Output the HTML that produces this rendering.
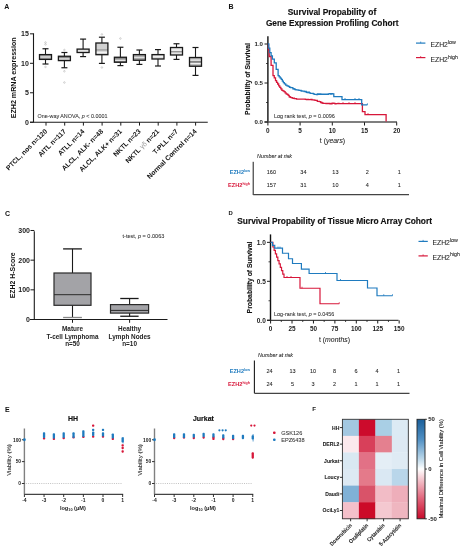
<!DOCTYPE html>
<html><head><meta charset="utf-8"><style>
html,body{margin:0;padding:0;background:#fff;width:464px;height:550px;overflow:hidden;}
svg{display:block;filter:blur(0.3px);font-family:"Liberation Sans", sans-serif;}
</style></head><body>
<svg width="464" height="550" viewBox="0 0 464 550" font-family="Liberation Sans, sans-serif"><text x="4.20" y="9.20" font-size="7" font-weight="bold" text-anchor="start" fill="#111" font-style="normal" >A</text>
<text x="228.40" y="9.40" font-size="7" font-weight="bold" text-anchor="start" fill="#111" font-style="normal" >B</text>
<text x="5.00" y="215.60" font-size="7" font-weight="bold" text-anchor="start" fill="#111" font-style="normal" >C</text>
<text x="5.00" y="411.90" font-size="7" font-weight="bold" text-anchor="start" fill="#111" font-style="normal" >E</text>
<text x="312.30" y="411.30" font-size="6.2" font-weight="bold" text-anchor="start" fill="#222" font-style="normal" >F</text>
<text x="228.40" y="215.10" font-size="5.9" font-weight="bold" text-anchor="start" fill="#111" font-style="normal" >D</text>
<line x1="33.50" y1="33.30" x2="33.50" y2="122.25" stroke="#1a1a1a" stroke-width="1.1" />
<line x1="30.00" y1="122.25" x2="207.75" y2="122.25" stroke="#1a1a1a" stroke-width="1.1" />
<line x1="30.00" y1="122.25" x2="33.50" y2="122.25" stroke="#1a1a1a" stroke-width="1" />
<text x="28.90" y="124.85" font-size="7.0" font-weight="bold" text-anchor="end" fill="#222" font-style="normal" >0</text>
<line x1="30.00" y1="92.78" x2="33.50" y2="92.78" stroke="#1a1a1a" stroke-width="1" />
<text x="28.90" y="95.38" font-size="7.0" font-weight="bold" text-anchor="end" fill="#222" font-style="normal" >5</text>
<line x1="30.00" y1="63.30" x2="33.50" y2="63.30" stroke="#1a1a1a" stroke-width="1" />
<text x="28.90" y="65.90" font-size="7.0" font-weight="bold" text-anchor="end" fill="#222" font-style="normal" >10</text>
<line x1="30.00" y1="33.83" x2="33.50" y2="33.83" stroke="#1a1a1a" stroke-width="1" />
<text x="28.90" y="36.43" font-size="7.0" font-weight="bold" text-anchor="end" fill="#222" font-style="normal" >15</text>
<text x="0.00" y="0.00" font-size="7.1" font-weight="bold" text-anchor="middle" fill="#111" font-style="normal" transform="translate(15.7,77.8) rotate(-90)">EZH2 mRNA expression</text>
<text x="37.50" y="118.20" font-size="5.4" font-weight="normal" text-anchor="start" fill="#333" font-style="normal" stroke="#333" stroke-width="0.07" >One-way ANOVA, <tspan font-style="italic">p</tspan> &lt; 0.0001</text>
<line x1="46.00" y1="122.25" x2="46.00" y2="125.60" stroke="#1a1a1a" stroke-width="1" />
<line x1="45.50" y1="48.75" x2="45.50" y2="54.60" stroke="#1a1a1a" stroke-width="1.1" />
<line x1="45.50" y1="59.40" x2="45.50" y2="64.00" stroke="#1a1a1a" stroke-width="1.1" />
<line x1="42.50" y1="48.75" x2="48.50" y2="48.75" stroke="#1a1a1a" stroke-width="1.2" />
<line x1="42.50" y1="64.00" x2="48.50" y2="64.00" stroke="#1a1a1a" stroke-width="1.2" />
<rect x="39.50" y="54.60" width="12.00" height="4.80" fill="#a0a0a0"/>
<rect x="39.50" y="56.40" width="12.00" height="1.2" fill="#e8e8e8"/>
<rect x="39.50" y="54.60" width="12.00" height="4.80" fill="none" stroke="#1a1a1a" stroke-width="1.3"/>
<circle cx="45.50" cy="42.50" r="0.8" fill="none" stroke="#aaa" stroke-width="0.5"/>
<circle cx="45.50" cy="44.40" r="0.8" fill="none" stroke="#aaa" stroke-width="0.5"/>
<circle cx="45.50" cy="66.90" r="0.8" fill="none" stroke="#aaa" stroke-width="0.5"/>
<text font-size="6.8" font-weight="bold" text-anchor="end" fill="#111" transform="translate(47.60,131.80) rotate(-45)">PTCL, nos n=120</text>
<line x1="64.70" y1="122.25" x2="64.70" y2="125.60" stroke="#1a1a1a" stroke-width="1" />
<line x1="64.40" y1="52.50" x2="64.40" y2="56.25" stroke="#1a1a1a" stroke-width="1.1" />
<line x1="64.40" y1="60.60" x2="64.40" y2="67.75" stroke="#1a1a1a" stroke-width="1.1" />
<line x1="61.40" y1="52.50" x2="67.40" y2="52.50" stroke="#1a1a1a" stroke-width="1.2" />
<line x1="61.40" y1="67.75" x2="67.40" y2="67.75" stroke="#1a1a1a" stroke-width="1.2" />
<rect x="58.40" y="56.25" width="12.00" height="4.35" fill="#8a8a8a"/>
<rect x="58.40" y="58.35" width="12.00" height="1.2" fill="#f4f4f4"/>
<rect x="58.40" y="56.25" width="12.00" height="4.35" fill="none" stroke="#1a1a1a" stroke-width="1.3"/>
<circle cx="64.40" cy="50.00" r="0.8" fill="none" stroke="#aaa" stroke-width="0.5"/>
<circle cx="64.40" cy="71.25" r="0.8" fill="none" stroke="#aaa" stroke-width="0.5"/>
<circle cx="64.40" cy="82.50" r="0.8" fill="none" stroke="#aaa" stroke-width="0.5"/>
<text font-size="6.8" font-weight="bold" text-anchor="end" fill="#111" transform="translate(66.30,131.80) rotate(-45)">AITL n=117</text>
<line x1="83.40" y1="122.25" x2="83.40" y2="125.60" stroke="#1a1a1a" stroke-width="1" />
<line x1="83.10" y1="39.10" x2="83.10" y2="49.10" stroke="#1a1a1a" stroke-width="1.1" />
<line x1="83.10" y1="52.50" x2="83.10" y2="56.60" stroke="#1a1a1a" stroke-width="1.1" />
<line x1="80.10" y1="39.10" x2="86.10" y2="39.10" stroke="#1a1a1a" stroke-width="1.2" />
<line x1="80.10" y1="56.60" x2="86.10" y2="56.60" stroke="#1a1a1a" stroke-width="1.2" />
<rect x="77.10" y="49.10" width="12.00" height="3.40" fill="#e6e6e6"/>
<rect x="77.10" y="49.10" width="12.00" height="3.40" fill="none" stroke="#1a1a1a" stroke-width="1.3"/>
<text font-size="6.8" font-weight="bold" text-anchor="end" fill="#111" transform="translate(85.00,131.80) rotate(-45)">ATLL n=14</text>
<line x1="102.10" y1="122.25" x2="102.10" y2="125.60" stroke="#1a1a1a" stroke-width="1" />
<line x1="101.90" y1="37.20" x2="101.90" y2="43.00" stroke="#1a1a1a" stroke-width="1.1" />
<line x1="101.90" y1="54.70" x2="101.90" y2="63.40" stroke="#1a1a1a" stroke-width="1.1" />
<line x1="98.90" y1="37.20" x2="104.90" y2="37.20" stroke="#1a1a1a" stroke-width="1.2" />
<line x1="98.90" y1="63.40" x2="104.90" y2="63.40" stroke="#1a1a1a" stroke-width="1.2" />
<rect x="95.90" y="43.00" width="12.00" height="11.70" fill="#d2d2d2"/>
<rect x="95.90" y="49.65" width="12.00" height="1.2" fill="#f8f8f8"/>
<rect x="95.90" y="51.76" width="12.00" height="1.2" fill="#f4f4f4"/>
<line x1="95.90" y1="50.02" x2="107.90" y2="50.02" stroke="#555" stroke-width="0.8" />
<rect x="95.90" y="43.00" width="12.00" height="11.70" fill="none" stroke="#1a1a1a" stroke-width="1.3"/>
<circle cx="101.90" cy="34.40" r="0.8" fill="none" stroke="#aaa" stroke-width="0.5"/>
<circle cx="101.90" cy="67.50" r="0.8" fill="none" stroke="#aaa" stroke-width="0.5"/>
<text font-size="6.8" font-weight="bold" text-anchor="end" fill="#111" transform="translate(103.70,131.80) rotate(-45)">ALCL, ALK- n=48</text>
<line x1="120.80" y1="122.25" x2="120.80" y2="125.60" stroke="#1a1a1a" stroke-width="1" />
<line x1="120.40" y1="47.25" x2="120.40" y2="57.25" stroke="#1a1a1a" stroke-width="1.1" />
<line x1="120.40" y1="62.25" x2="120.40" y2="65.60" stroke="#1a1a1a" stroke-width="1.1" />
<line x1="117.40" y1="47.25" x2="123.40" y2="47.25" stroke="#1a1a1a" stroke-width="1.2" />
<line x1="117.40" y1="65.60" x2="123.40" y2="65.60" stroke="#1a1a1a" stroke-width="1.2" />
<rect x="114.40" y="57.25" width="12.00" height="5.00" fill="#8c8c8c"/>
<rect x="114.40" y="59.65" width="12.00" height="1.2" fill="#f4f4f4"/>
<rect x="114.40" y="57.25" width="12.00" height="5.00" fill="none" stroke="#1a1a1a" stroke-width="1.3"/>
<circle cx="120.40" cy="38.50" r="0.8" fill="none" stroke="#aaa" stroke-width="0.5"/>
<text font-size="6.8" font-weight="bold" text-anchor="end" fill="#111" transform="translate(122.40,131.80) rotate(-45)">ALCL, ALK+ n=31</text>
<line x1="139.50" y1="122.25" x2="139.50" y2="125.60" stroke="#1a1a1a" stroke-width="1" />
<line x1="139.40" y1="50.00" x2="139.40" y2="54.60" stroke="#1a1a1a" stroke-width="1.1" />
<line x1="139.40" y1="60.25" x2="139.40" y2="64.40" stroke="#1a1a1a" stroke-width="1.1" />
<line x1="136.40" y1="50.00" x2="142.40" y2="50.00" stroke="#1a1a1a" stroke-width="1.2" />
<line x1="136.40" y1="64.40" x2="142.40" y2="64.40" stroke="#1a1a1a" stroke-width="1.2" />
<rect x="133.40" y="54.60" width="12.00" height="5.65" fill="#a8a8a8"/>
<rect x="133.40" y="56.82" width="12.00" height="1.2" fill="#e0e0e0"/>
<rect x="133.40" y="54.60" width="12.00" height="5.65" fill="none" stroke="#1a1a1a" stroke-width="1.3"/>
<text font-size="6.8" font-weight="bold" text-anchor="end" fill="#111" transform="translate(141.10,131.80) rotate(-45)">NKTL n=23</text>
<line x1="158.20" y1="122.25" x2="158.20" y2="125.60" stroke="#1a1a1a" stroke-width="1" />
<line x1="158.00" y1="49.60" x2="158.00" y2="54.60" stroke="#1a1a1a" stroke-width="1.1" />
<line x1="158.00" y1="59.00" x2="158.00" y2="66.00" stroke="#1a1a1a" stroke-width="1.1" />
<line x1="155.00" y1="49.60" x2="161.00" y2="49.60" stroke="#1a1a1a" stroke-width="1.2" />
<line x1="155.00" y1="66.00" x2="161.00" y2="66.00" stroke="#1a1a1a" stroke-width="1.2" />
<rect x="152.00" y="54.60" width="12.00" height="4.40" fill="#d0d0d0"/>
<rect x="152.00" y="56.20" width="12.00" height="1.2" fill="#fafafa"/>
<rect x="152.00" y="54.60" width="12.00" height="4.40" fill="none" stroke="#1a1a1a" stroke-width="1.3"/>
<text font-size="6.8" font-weight="bold" text-anchor="end" fill="#111" transform="translate(159.80,131.80) rotate(-45)">NKTL <tspan font-weight="normal" fill="#999">&#947;&#948;</tspan> n=21</text>
<line x1="176.90" y1="122.25" x2="176.90" y2="125.60" stroke="#1a1a1a" stroke-width="1" />
<line x1="176.50" y1="43.75" x2="176.50" y2="47.50" stroke="#1a1a1a" stroke-width="1.1" />
<line x1="176.50" y1="55.00" x2="176.50" y2="59.40" stroke="#1a1a1a" stroke-width="1.1" />
<line x1="173.50" y1="43.75" x2="179.50" y2="43.75" stroke="#1a1a1a" stroke-width="1.2" />
<line x1="173.50" y1="59.40" x2="179.50" y2="59.40" stroke="#1a1a1a" stroke-width="1.2" />
<rect x="170.50" y="47.50" width="12.00" height="7.50" fill="#dedede"/>
<rect x="170.50" y="49.52" width="12.00" height="1.2" fill="#f6f6f6"/>
<rect x="170.50" y="52.15" width="12.00" height="1.2" fill="#f6f6f6"/>
<line x1="170.50" y1="51.85" x2="182.50" y2="51.85" stroke="#555" stroke-width="0.8" />
<rect x="170.50" y="47.50" width="12.00" height="7.50" fill="none" stroke="#1a1a1a" stroke-width="1.3"/>
<text font-size="6.8" font-weight="bold" text-anchor="end" fill="#111" transform="translate(178.50,131.80) rotate(-45)">T-PLL n=7</text>
<line x1="195.60" y1="122.25" x2="195.60" y2="125.60" stroke="#1a1a1a" stroke-width="1" />
<line x1="195.50" y1="47.50" x2="195.50" y2="57.50" stroke="#1a1a1a" stroke-width="1.1" />
<line x1="195.50" y1="66.25" x2="195.50" y2="75.40" stroke="#1a1a1a" stroke-width="1.1" />
<line x1="192.50" y1="47.50" x2="198.50" y2="47.50" stroke="#1a1a1a" stroke-width="1.2" />
<line x1="192.50" y1="75.40" x2="198.50" y2="75.40" stroke="#1a1a1a" stroke-width="1.2" />
<rect x="189.50" y="57.50" width="12.00" height="8.75" fill="#b4b4b4"/>
<rect x="189.50" y="59.52" width="12.00" height="1.2" fill="#f0f0f0"/>
<rect x="189.50" y="63.02" width="12.00" height="1.2" fill="#f0f0f0"/>
<line x1="189.50" y1="61.88" x2="201.50" y2="61.88" stroke="#555" stroke-width="0.8" />
<rect x="189.50" y="57.50" width="12.00" height="8.75" fill="none" stroke="#1a1a1a" stroke-width="1.3"/>
<text font-size="6.8" font-weight="bold" text-anchor="end" fill="#111" transform="translate(197.20,131.80) rotate(-45)">Normal Control n=14</text>
<text x="332.00" y="15.20" font-size="8.4" font-weight="bold" text-anchor="middle" fill="#111" font-style="normal" stroke="#111" stroke-width="0.15" >Survival Propability of</text>
<text x="332.20" y="25.50" font-size="8.25" font-weight="bold" text-anchor="middle" fill="#111" font-style="normal" stroke="#111" stroke-width="0.15" >Gene Expression Profiling Cohort</text>
<line x1="267.90" y1="36.30" x2="267.90" y2="122.30" stroke="#111" stroke-width="1.4" />
<line x1="264.50" y1="122.10" x2="397.00" y2="122.10" stroke="#555" stroke-width="1.5" />
<line x1="264.50" y1="122.00" x2="267.90" y2="122.00" stroke="#1a1a1a" stroke-width="1" />
<text x="263.00" y="124.30" font-size="6.1" font-weight="bold" text-anchor="end" fill="#222" font-style="normal" >0.0</text>
<line x1="264.50" y1="83.00" x2="267.90" y2="83.00" stroke="#1a1a1a" stroke-width="1" />
<text x="263.00" y="85.30" font-size="6.1" font-weight="bold" text-anchor="end" fill="#222" font-style="normal" >0.5</text>
<line x1="264.50" y1="44.00" x2="267.90" y2="44.00" stroke="#1a1a1a" stroke-width="1" />
<text x="263.00" y="46.30" font-size="6.1" font-weight="bold" text-anchor="end" fill="#222" font-style="normal" >1.0</text>
<line x1="266.00" y1="102.50" x2="267.90" y2="102.50" stroke="#1a1a1a" stroke-width="0.8" />
<line x1="266.00" y1="63.50" x2="267.90" y2="63.50" stroke="#1a1a1a" stroke-width="0.8" />
<line x1="267.90" y1="122.30" x2="267.90" y2="125.50" stroke="#1a1a1a" stroke-width="1" />
<text x="267.90" y="132.90" font-size="6.4" font-weight="bold" text-anchor="middle" fill="#222" font-style="normal" >0</text>
<line x1="300.10" y1="122.30" x2="300.10" y2="125.50" stroke="#1a1a1a" stroke-width="1" />
<text x="300.10" y="132.90" font-size="6.4" font-weight="bold" text-anchor="middle" fill="#222" font-style="normal" >5</text>
<line x1="332.30" y1="122.30" x2="332.30" y2="125.50" stroke="#1a1a1a" stroke-width="1" />
<text x="332.30" y="132.90" font-size="6.4" font-weight="bold" text-anchor="middle" fill="#222" font-style="normal" >10</text>
<line x1="364.50" y1="122.30" x2="364.50" y2="125.50" stroke="#1a1a1a" stroke-width="1" />
<text x="364.50" y="132.90" font-size="6.4" font-weight="bold" text-anchor="middle" fill="#222" font-style="normal" >15</text>
<line x1="396.70" y1="122.30" x2="396.70" y2="125.50" stroke="#1a1a1a" stroke-width="1" />
<text x="396.70" y="132.90" font-size="6.4" font-weight="bold" text-anchor="middle" fill="#222" font-style="normal" >20</text>
<text x="0.00" y="0.00" font-size="6.8" font-weight="bold" text-anchor="middle" fill="#111" font-style="normal" stroke="#111" stroke-width="0.12" transform="translate(250.0,79.0) rotate(-90)">Probability of Survival</text>
<text x="332.50" y="143.00" font-size="6.9" font-weight="normal" text-anchor="middle" fill="#222" font-style="normal" stroke="#222" stroke-width="0.07" >t (<tspan font-style="italic">years</tspan>)</text>
<text x="273.90" y="118.00" font-size="5.5" font-weight="normal" text-anchor="start" fill="#333" font-style="normal" stroke="#333" stroke-width="0.07" >Log rank test, <tspan font-style="italic">p</tspan> = 0.0096</text>
<path d="M267.80,44.50 H268.50 V50.00 H269.20 V56.50 H271.10 V65.40 H273.00 V75.60 H274.25 V77.97 H275.50 V80.70 H276.57 V82.43 H277.63 V84.01 H278.70 V85.80 H279.77 V87.37 H280.83 V88.89 H281.90 V90.30 H282.97 V90.83 H284.03 V91.63 H285.10 V92.80 H286.12 V93.94 H287.14 V94.43 H288.16 V95.31 H289.18 V96.75 H290.20 V97.30 H291.25 V97.60 H292.30 V98.17 H293.35 V98.23 H294.40 V98.66 H295.45 V98.64 H296.50 V99.20 L304.20,99.20 H305.31 V99.37 H306.43 V99.61 H307.54 V99.44 H308.65 V99.67 H309.76 V99.69 H310.88 V99.34 H311.99 V99.91 H313.10 V99.80 H314.15 V100.18 H315.20 V100.29 H316.25 V100.42 H317.30 V101.32 H318.35 V101.36 H319.40 V101.70 H320.70 V102.50 H322.00 V103.00 H323.00 V103.42 H324.00 V103.30 H325.00 V103.47 H326.00 V103.64 H327.00 V103.30 H328.00 V103.61 H329.00 V103.39 H330.00 V103.75 H331.00 V103.74 H332.00 V103.22 H333.00 V103.27 H334.00 V103.35 H335.00 V103.90 H336.00 V103.56 H337.00 V103.71 H338.00 V103.51 H339.00 V103.68 H340.00 V103.70 L362.40,103.70 L362.40,111.70 L365.00,111.70 L365.00,114.70 L386.10,114.70 L386.10,121.50" fill="none" stroke="#d7173a" stroke-width="1.3"/>
<path d="M267.80,43.80 H268.80 V48.17 H269.80 V52.70 H271.10 V55.80 H272.40 V59.10 H274.30 V62.90 H276.20 V69.30 H278.10 V75.60 H279.17 V76.93 H280.23 V78.19 H281.30 V79.40 H282.33 V81.18 H283.37 V82.53 H284.40 V83.90 H285.70 V85.03 H287.00 V85.82 H288.30 V86.40 H289.44 V87.26 H290.58 V87.56 H291.72 V87.72 H292.86 V88.73 H294.00 V89.00 H295.02 V89.59 H296.04 V89.80 H297.06 V89.83 H298.08 V90.19 H299.10 V90.30 H300.12 V90.34 H301.14 V91.01 H302.16 V91.07 H303.18 V91.11 H304.20 V91.50 H305.22 V91.45 H306.24 V92.27 H307.26 V92.62 H308.28 V92.25 H309.30 V92.80 H310.30 V93.31 H311.30 V93.34 H312.30 V93.46 H313.30 V93.86 H314.30 V94.30 H315.38 V94.47 H316.46 V94.52 H317.53 V93.91 H318.61 V94.29 H319.69 V93.87 H320.77 V94.32 H321.84 V94.03 H322.92 V94.39 H324.00 V94.10 H325.09 V94.43 H326.18 V94.08 H327.27 V94.42 H328.36 V93.92 H329.44 V93.75 H330.53 V94.10 H331.62 V93.69 H332.71 V93.80 H333.80 V94.00 L333.80,96.60 L342.00,96.60 L342.00,99.60 L361.70,99.60 L361.70,104.90 L367.40,104.90" fill="none" stroke="#1f7bbf" stroke-width="1.3"/>
<line x1="345.00" y1="98.00" x2="345.00" y2="99.60" stroke="#1f7bbf" stroke-width="0.8" />
<line x1="355.00" y1="98.00" x2="355.00" y2="99.60" stroke="#1f7bbf" stroke-width="0.8" />
<line x1="359.00" y1="98.00" x2="359.00" y2="99.60" stroke="#1f7bbf" stroke-width="0.8" />
<line x1="367.40" y1="103.30" x2="367.40" y2="104.90" stroke="#1f7bbf" stroke-width="0.8" />
<line x1="343.00" y1="102.10" x2="343.00" y2="103.70" stroke="#d7173a" stroke-width="0.8" />
<line x1="349.00" y1="102.10" x2="349.00" y2="103.70" stroke="#d7173a" stroke-width="0.8" />
<line x1="355.00" y1="102.10" x2="355.00" y2="103.70" stroke="#d7173a" stroke-width="0.8" />
<line x1="368.00" y1="113.10" x2="368.00" y2="114.70" stroke="#d7173a" stroke-width="0.8" />
<line x1="416.00" y1="43.10" x2="425.40" y2="43.10" stroke="#1f7bbf" stroke-width="1.2" />
<line x1="420.70" y1="41.60" x2="420.70" y2="43.10" stroke="#1f7bbf" stroke-width="0.8" />
<line x1="416.00" y1="57.60" x2="425.40" y2="57.60" stroke="#d7173a" stroke-width="1.2" />
<line x1="420.70" y1="56.10" x2="420.70" y2="57.60" stroke="#d7173a" stroke-width="0.8" />
<text x="430.50" y="46.80" font-size="6.8" font-weight="normal" text-anchor="start" fill="#222" font-style="normal" stroke="#222" stroke-width="0.07" >EZH2<tspan font-size="5.3" dy="-3.3">low</tspan></text>
<text x="430.50" y="61.80" font-size="6.8" font-weight="normal" text-anchor="start" fill="#222" font-style="normal" stroke="#222" stroke-width="0.07" >EZH2<tspan font-size="5.3" dy="-3.3">high</tspan></text>
<text x="257.00" y="158.00" font-size="5.4" font-weight="normal" text-anchor="start" fill="#222" font-style="italic" stroke="#222" stroke-width="0.07" >Number at risk</text>
<text x="250.00" y="173.50" font-size="5.6" font-weight="bold" text-anchor="end" fill="#1f7bbf" font-style="normal" >EZH2<tspan font-size="3.6" dy="-2">low</tspan></text>
<text x="250.00" y="187.00" font-size="5.6" font-weight="bold" text-anchor="end" fill="#d7173a" font-style="normal" >EZH2<tspan font-size="3.6" dy="-2">high</tspan></text>
<line x1="253.20" y1="161.80" x2="253.20" y2="195.00" stroke="#1a1a1a" stroke-width="1" />
<line x1="253.20" y1="194.60" x2="409.00" y2="194.60" stroke="#444" stroke-width="1.2" />
<text x="271.40" y="173.60" font-size="5.5" font-weight="normal" text-anchor="middle" fill="#222" font-style="normal" stroke="#222" stroke-width="0.07" >160</text>
<text x="271.40" y="187.00" font-size="5.5" font-weight="normal" text-anchor="middle" fill="#222" font-style="normal" stroke="#222" stroke-width="0.07" >157</text>
<text x="303.40" y="173.60" font-size="5.5" font-weight="normal" text-anchor="middle" fill="#222" font-style="normal" stroke="#222" stroke-width="0.07" >34</text>
<text x="303.40" y="187.00" font-size="5.5" font-weight="normal" text-anchor="middle" fill="#222" font-style="normal" stroke="#222" stroke-width="0.07" >31</text>
<text x="335.40" y="173.60" font-size="5.5" font-weight="normal" text-anchor="middle" fill="#222" font-style="normal" stroke="#222" stroke-width="0.07" >13</text>
<text x="335.40" y="187.00" font-size="5.5" font-weight="normal" text-anchor="middle" fill="#222" font-style="normal" stroke="#222" stroke-width="0.07" >10</text>
<text x="367.40" y="173.60" font-size="5.5" font-weight="normal" text-anchor="middle" fill="#222" font-style="normal" stroke="#222" stroke-width="0.07" >2</text>
<text x="367.40" y="187.00" font-size="5.5" font-weight="normal" text-anchor="middle" fill="#222" font-style="normal" stroke="#222" stroke-width="0.07" >4</text>
<text x="399.40" y="173.60" font-size="5.5" font-weight="normal" text-anchor="middle" fill="#222" font-style="normal" stroke="#222" stroke-width="0.07" >1</text>
<text x="399.40" y="187.00" font-size="5.5" font-weight="normal" text-anchor="middle" fill="#222" font-style="normal" stroke="#222" stroke-width="0.07" >1</text>
<line x1="34.30" y1="231.20" x2="34.30" y2="319.50" stroke="#1a1a1a" stroke-width="1.1" />
<line x1="30.00" y1="319.50" x2="167.50" y2="319.50" stroke="#1a1a1a" stroke-width="1.1" />
<line x1="30.50" y1="319.50" x2="34.30" y2="319.50" stroke="#1a1a1a" stroke-width="1" />
<text x="30.00" y="321.90" font-size="7.0" font-weight="bold" text-anchor="end" fill="#222" font-style="normal" >0</text>
<line x1="30.50" y1="289.83" x2="34.30" y2="289.83" stroke="#1a1a1a" stroke-width="1" />
<text x="30.00" y="292.23" font-size="7.0" font-weight="bold" text-anchor="end" fill="#222" font-style="normal" >100</text>
<line x1="30.50" y1="260.16" x2="34.30" y2="260.16" stroke="#1a1a1a" stroke-width="1" />
<text x="30.00" y="262.56" font-size="7.0" font-weight="bold" text-anchor="end" fill="#222" font-style="normal" >200</text>
<line x1="30.50" y1="230.49" x2="34.30" y2="230.49" stroke="#1a1a1a" stroke-width="1" />
<text x="30.00" y="232.89" font-size="7.0" font-weight="bold" text-anchor="end" fill="#222" font-style="normal" >300</text>
<text x="0.00" y="0.00" font-size="6.9" font-weight="bold" text-anchor="middle" fill="#111" font-style="normal" transform="translate(14.5,275.3) rotate(-90)">EZH2 H-Score</text>
<text x="122.50" y="237.60" font-size="5.55" font-weight="normal" text-anchor="start" fill="#333" font-style="normal" stroke="#333" stroke-width="0.07" >t-test, <tspan font-style="italic">p</tspan> = 0.0063</text>
<line x1="72.50" y1="248.90" x2="72.50" y2="273.00" stroke="#1a1a1a" stroke-width="1.1" />
<line x1="63.10" y1="248.90" x2="81.90" y2="248.90" stroke="#1a1a1a" stroke-width="1.3" />
<line x1="72.50" y1="305.30" x2="72.50" y2="317.50" stroke="#1a1a1a" stroke-width="1.1" />
<line x1="63.10" y1="317.50" x2="81.90" y2="317.50" stroke="#888" stroke-width="1.3" />
<rect x="54" y="273" width="37" height="32.3" fill="#a3a3a7" stroke="#2a2a2a" stroke-width="1.2"/>
<line x1="54.00" y1="294.70" x2="91.00" y2="294.70" stroke="#2a2a2a" stroke-width="1.0" />
<line x1="129.60" y1="298.50" x2="129.60" y2="304.60" stroke="#1a1a1a" stroke-width="1.1" />
<line x1="120.25" y1="298.50" x2="138.60" y2="298.50" stroke="#1a1a1a" stroke-width="1.3" />
<line x1="129.60" y1="313.10" x2="129.60" y2="316.25" stroke="#1a1a1a" stroke-width="1.1" />
<line x1="120.25" y1="316.25" x2="138.60" y2="316.25" stroke="#1a1a1a" stroke-width="1.3" />
<rect x="110.5" y="304.6" width="38.1" height="8.5" fill="#a3a3a7" stroke="#2a2a2a" stroke-width="1.2"/>
<line x1="110.50" y1="310.40" x2="148.60" y2="310.40" stroke="#2a2a2a" stroke-width="1.0" />
<line x1="72.50" y1="319.50" x2="72.50" y2="322.80" stroke="#1a1a1a" stroke-width="1" />
<line x1="129.60" y1="319.50" x2="129.60" y2="322.80" stroke="#1a1a1a" stroke-width="1" />
<text x="72.50" y="331.20" font-size="6.4" font-weight="bold" text-anchor="middle" fill="#222" font-style="normal" >Mature</text>
<text x="72.50" y="338.80" font-size="6.4" font-weight="bold" text-anchor="middle" fill="#222" font-style="normal" >T-cell Lymphoma</text>
<text x="72.50" y="346.40" font-size="6.4" font-weight="bold" text-anchor="middle" fill="#222" font-style="normal" >n=50</text>
<text x="129.60" y="331.20" font-size="6.4" font-weight="bold" text-anchor="middle" fill="#222" font-style="normal" >Healthy</text>
<text x="129.60" y="338.80" font-size="6.4" font-weight="bold" text-anchor="middle" fill="#222" font-style="normal" >Lymph Nodes</text>
<text x="129.60" y="346.40" font-size="6.4" font-weight="bold" text-anchor="middle" fill="#222" font-style="normal" >n=10</text>
<text x="237.25" y="223.80" font-size="8.36" font-weight="bold" text-anchor="start" fill="#111" font-style="normal" stroke="#111" stroke-width="0.15" >Survival Propability of Tissue Micro Array Cohort</text>
<line x1="270.50" y1="234.40" x2="270.50" y2="320.30" stroke="#111" stroke-width="1.4" />
<line x1="267.00" y1="320.30" x2="398.50" y2="320.30" stroke="#444" stroke-width="1.2" />
<line x1="267.00" y1="320.25" x2="270.40" y2="320.25" stroke="#1a1a1a" stroke-width="1" />
<text x="265.80" y="322.65" font-size="6.5" font-weight="bold" text-anchor="end" fill="#222" font-style="normal" >0.0</text>
<line x1="267.00" y1="281.30" x2="270.40" y2="281.30" stroke="#1a1a1a" stroke-width="1" />
<text x="265.80" y="283.70" font-size="6.5" font-weight="bold" text-anchor="end" fill="#222" font-style="normal" >0.5</text>
<line x1="267.00" y1="242.35" x2="270.40" y2="242.35" stroke="#1a1a1a" stroke-width="1" />
<text x="265.80" y="244.75" font-size="6.5" font-weight="bold" text-anchor="end" fill="#222" font-style="normal" >1.0</text>
<line x1="268.50" y1="300.77" x2="270.40" y2="300.77" stroke="#1a1a1a" stroke-width="0.8" />
<line x1="268.50" y1="261.82" x2="270.40" y2="261.82" stroke="#1a1a1a" stroke-width="0.8" />
<line x1="270.60" y1="320.30" x2="270.60" y2="323.50" stroke="#1a1a1a" stroke-width="1" />
<text x="270.60" y="330.80" font-size="6.4" font-weight="bold" text-anchor="middle" fill="#222" font-style="normal" >0</text>
<line x1="292.03" y1="320.30" x2="292.03" y2="323.50" stroke="#1a1a1a" stroke-width="1" />
<text x="292.03" y="330.80" font-size="6.4" font-weight="bold" text-anchor="middle" fill="#222" font-style="normal" >25</text>
<line x1="313.45" y1="320.30" x2="313.45" y2="323.50" stroke="#1a1a1a" stroke-width="1" />
<text x="313.45" y="330.80" font-size="6.4" font-weight="bold" text-anchor="middle" fill="#222" font-style="normal" >50</text>
<line x1="334.88" y1="320.30" x2="334.88" y2="323.50" stroke="#1a1a1a" stroke-width="1" />
<text x="334.88" y="330.80" font-size="6.4" font-weight="bold" text-anchor="middle" fill="#222" font-style="normal" >75</text>
<line x1="356.30" y1="320.30" x2="356.30" y2="323.50" stroke="#1a1a1a" stroke-width="1" />
<text x="356.30" y="330.80" font-size="6.4" font-weight="bold" text-anchor="middle" fill="#222" font-style="normal" >100</text>
<line x1="377.73" y1="320.30" x2="377.73" y2="323.50" stroke="#1a1a1a" stroke-width="1" />
<text x="377.73" y="330.80" font-size="6.4" font-weight="bold" text-anchor="middle" fill="#222" font-style="normal" >125</text>
<line x1="399.15" y1="320.30" x2="399.15" y2="323.50" stroke="#1a1a1a" stroke-width="1" />
<text x="399.15" y="330.80" font-size="6.4" font-weight="bold" text-anchor="middle" fill="#222" font-style="normal" >150</text>
<line x1="281.31" y1="320.30" x2="281.31" y2="322.00" stroke="#1a1a1a" stroke-width="0.8" />
<line x1="302.74" y1="320.30" x2="302.74" y2="322.00" stroke="#1a1a1a" stroke-width="0.8" />
<line x1="324.16" y1="320.30" x2="324.16" y2="322.00" stroke="#1a1a1a" stroke-width="0.8" />
<line x1="345.59" y1="320.30" x2="345.59" y2="322.00" stroke="#1a1a1a" stroke-width="0.8" />
<line x1="367.01" y1="320.30" x2="367.01" y2="322.00" stroke="#1a1a1a" stroke-width="0.8" />
<line x1="388.44" y1="320.30" x2="388.44" y2="322.00" stroke="#1a1a1a" stroke-width="0.8" />
<text x="0.00" y="0.00" font-size="6.8" font-weight="bold" text-anchor="middle" fill="#111" font-style="normal" stroke="#111" stroke-width="0.12" transform="translate(252.2,277.5) rotate(-90)">Probability of Survival</text>
<text x="334.50" y="341.50" font-size="6.9" font-weight="normal" text-anchor="middle" fill="#222" font-style="normal" stroke="#222" stroke-width="0.07" >t (<tspan font-style="italic">months</tspan>)</text>
<text x="274.10" y="316.40" font-size="5.42" font-weight="normal" text-anchor="start" fill="#333" font-style="normal" stroke="#333" stroke-width="0.07" >Log-rank test, <tspan font-style="italic">p</tspan> = 0.0456</text>
<path d="M270.6,242.4 H272.9 V247 H274.13 V250.39 H275.37 V253.78 H276.60 V257.17 H277.83 V260.56 H279.07 V263.94 H280.30 V267.33 H281.53 V270.72 H282.77 V274.11 H284.00 V277.50 H300 V288.25 H320 V303.75 H339.25" fill="none" stroke="#d7173a" stroke-width="1.2"/>
<path d="M270.6,242.4 H272.5 V245.4 H274.75 V248.1 H282.5 V253.25 H288.5 V258.75 H292.5 V263.5 H301.4 V269.1 H309.1 V273.5 H337 V280.5 H367.5 V288 H377 V295.75 H392.5" fill="none" stroke="#1f7bbf" stroke-width="1.2"/>
<line x1="278.00" y1="246.60" x2="278.00" y2="248.10" stroke="#1f7bbf" stroke-width="0.8" />
<line x1="280.00" y1="246.60" x2="280.00" y2="248.10" stroke="#1f7bbf" stroke-width="0.8" />
<line x1="325.50" y1="272.00" x2="325.50" y2="273.50" stroke="#1f7bbf" stroke-width="0.8" />
<line x1="340.50" y1="279.00" x2="340.50" y2="280.50" stroke="#1f7bbf" stroke-width="0.8" />
<line x1="383.75" y1="294.25" x2="383.75" y2="295.75" stroke="#1f7bbf" stroke-width="0.8" />
<line x1="392.50" y1="294.25" x2="392.50" y2="295.75" stroke="#1f7bbf" stroke-width="0.8" />
<line x1="287.00" y1="276.00" x2="287.00" y2="277.50" stroke="#d7173a" stroke-width="0.8" />
<line x1="291.00" y1="276.00" x2="291.00" y2="277.50" stroke="#d7173a" stroke-width="0.8" />
<line x1="302.00" y1="286.75" x2="302.00" y2="288.25" stroke="#d7173a" stroke-width="0.8" />
<line x1="339.25" y1="302.25" x2="339.25" y2="303.75" stroke="#d7173a" stroke-width="0.8" />
<line x1="418.50" y1="241.40" x2="427.80" y2="241.40" stroke="#1f7bbf" stroke-width="1.2" />
<line x1="423.10" y1="239.90" x2="423.10" y2="241.40" stroke="#1f7bbf" stroke-width="0.8" />
<line x1="418.50" y1="255.90" x2="427.80" y2="255.90" stroke="#d7173a" stroke-width="1.2" />
<line x1="423.10" y1="254.40" x2="423.10" y2="255.90" stroke="#d7173a" stroke-width="0.8" />
<text x="432.50" y="245.20" font-size="6.8" font-weight="normal" text-anchor="start" fill="#222" font-style="normal" stroke="#222" stroke-width="0.07" >EZH2<tspan font-size="5.3" dy="-3.3">low</tspan></text>
<text x="432.50" y="259.70" font-size="6.8" font-weight="normal" text-anchor="start" fill="#222" font-style="normal" stroke="#222" stroke-width="0.07" >EZH2<tspan font-size="5.3" dy="-3.3">high</tspan></text>
<text x="258.00" y="357.00" font-size="5.4" font-weight="normal" text-anchor="start" fill="#222" font-style="italic" stroke="#222" stroke-width="0.07" >Number at risk</text>
<text x="250.00" y="373.00" font-size="5.6" font-weight="bold" text-anchor="end" fill="#1f7bbf" font-style="normal" >EZH2<tspan font-size="3.6" dy="-2">low</tspan></text>
<text x="250.00" y="386.00" font-size="5.6" font-weight="bold" text-anchor="end" fill="#d7173a" font-style="normal" >EZH2<tspan font-size="3.6" dy="-2">high</tspan></text>
<line x1="254.40" y1="360.50" x2="254.40" y2="393.30" stroke="#1a1a1a" stroke-width="1.1" />
<line x1="254.40" y1="393.30" x2="409.50" y2="393.30" stroke="#444" stroke-width="1.2" />
<text x="269.50" y="372.60" font-size="5.5" font-weight="normal" text-anchor="middle" fill="#222" font-style="normal" stroke="#222" stroke-width="0.07" >24</text>
<text x="269.50" y="386.20" font-size="5.5" font-weight="normal" text-anchor="middle" fill="#222" font-style="normal" stroke="#222" stroke-width="0.07" >24</text>
<text x="292.50" y="372.60" font-size="5.5" font-weight="normal" text-anchor="middle" fill="#222" font-style="normal" stroke="#222" stroke-width="0.07" >13</text>
<text x="292.50" y="386.20" font-size="5.5" font-weight="normal" text-anchor="middle" fill="#222" font-style="normal" stroke="#222" stroke-width="0.07" >5</text>
<text x="313.00" y="372.60" font-size="5.5" font-weight="normal" text-anchor="middle" fill="#222" font-style="normal" stroke="#222" stroke-width="0.07" >10</text>
<text x="313.00" y="386.20" font-size="5.5" font-weight="normal" text-anchor="middle" fill="#222" font-style="normal" stroke="#222" stroke-width="0.07" >3</text>
<text x="334.50" y="372.60" font-size="5.5" font-weight="normal" text-anchor="middle" fill="#222" font-style="normal" stroke="#222" stroke-width="0.07" >8</text>
<text x="334.50" y="386.20" font-size="5.5" font-weight="normal" text-anchor="middle" fill="#222" font-style="normal" stroke="#222" stroke-width="0.07" >2</text>
<text x="356.00" y="372.60" font-size="5.5" font-weight="normal" text-anchor="middle" fill="#222" font-style="normal" stroke="#222" stroke-width="0.07" >6</text>
<text x="356.00" y="386.20" font-size="5.5" font-weight="normal" text-anchor="middle" fill="#222" font-style="normal" stroke="#222" stroke-width="0.07" >1</text>
<text x="377.00" y="372.60" font-size="5.5" font-weight="normal" text-anchor="middle" fill="#222" font-style="normal" stroke="#222" stroke-width="0.07" >4</text>
<text x="377.00" y="386.20" font-size="5.5" font-weight="normal" text-anchor="middle" fill="#222" font-style="normal" stroke="#222" stroke-width="0.07" >1</text>
<text x="398.50" y="372.60" font-size="5.5" font-weight="normal" text-anchor="middle" fill="#222" font-style="normal" stroke="#222" stroke-width="0.07" >1</text>
<text x="398.50" y="386.20" font-size="5.5" font-weight="normal" text-anchor="middle" fill="#222" font-style="normal" stroke="#222" stroke-width="0.07" >1</text>
<line x1="123.10" y1="437.00" x2="123.10" y2="443.50" stroke="#1f7bbf" stroke-width="0.6" />
<line x1="24.40" y1="428.50" x2="24.40" y2="494.40" stroke="#808080" stroke-width="1.4" />
<line x1="24.40" y1="494.40" x2="123.15" y2="494.40" stroke="#444" stroke-width="1.1" />
<line x1="21.90" y1="483.50" x2="24.40" y2="483.50" stroke="#1a1a1a" stroke-width="0.9" />
<text x="21.10" y="485.30" font-size="4.9" font-weight="bold" text-anchor="end" fill="#222" font-style="normal" >0</text>
<line x1="21.90" y1="461.62" x2="24.40" y2="461.62" stroke="#1a1a1a" stroke-width="0.9" />
<text x="21.10" y="463.43" font-size="4.9" font-weight="bold" text-anchor="end" fill="#222" font-style="normal" >50</text>
<line x1="21.90" y1="439.75" x2="24.40" y2="439.75" stroke="#1a1a1a" stroke-width="0.9" />
<text x="21.10" y="441.55" font-size="4.9" font-weight="bold" text-anchor="end" fill="#222" font-style="normal" >100</text>
<line x1="24.40" y1="494.40" x2="24.40" y2="497.00" stroke="#1a1a1a" stroke-width="0.9" />
<text x="24.40" y="502.00" font-size="5.0" font-weight="bold" text-anchor="middle" fill="#222" font-style="normal" >-4</text>
<line x1="44.05" y1="494.40" x2="44.05" y2="497.00" stroke="#1a1a1a" stroke-width="0.9" />
<text x="44.05" y="502.00" font-size="5.0" font-weight="bold" text-anchor="middle" fill="#222" font-style="normal" >-3</text>
<line x1="63.70" y1="494.40" x2="63.70" y2="497.00" stroke="#1a1a1a" stroke-width="0.9" />
<text x="63.70" y="502.00" font-size="5.0" font-weight="bold" text-anchor="middle" fill="#222" font-style="normal" >-2</text>
<line x1="83.35" y1="494.40" x2="83.35" y2="497.00" stroke="#1a1a1a" stroke-width="0.9" />
<text x="83.35" y="502.00" font-size="5.0" font-weight="bold" text-anchor="middle" fill="#222" font-style="normal" >-1</text>
<line x1="103.00" y1="494.40" x2="103.00" y2="497.00" stroke="#1a1a1a" stroke-width="0.9" />
<text x="103.00" y="502.00" font-size="5.0" font-weight="bold" text-anchor="middle" fill="#222" font-style="normal" >0</text>
<line x1="122.65" y1="494.40" x2="122.65" y2="497.00" stroke="#1a1a1a" stroke-width="0.9" />
<text x="122.65" y="502.00" font-size="5.0" font-weight="bold" text-anchor="middle" fill="#222" font-style="normal" >1</text>
<text x="72.90" y="509.60" font-size="5.6" font-weight="bold" text-anchor="middle" fill="#222" font-style="normal" >log<tspan font-size="3.8" dy="1.5">10</tspan><tspan dy="-1.5"> (&#956;M)</tspan></text>
<text font-size="6.0" font-weight="normal" text-anchor="middle" fill="#222" stroke="#222" stroke-width="0.07" transform="translate(11.40,460.0) rotate(-90)">Viability (%)</text>
<line x1="25.90" y1="483.50" x2="122.65" y2="483.50" stroke="#999" stroke-width="0.6" stroke-dasharray="1,1.2"/>
<text x="73.00" y="421.30" font-size="7.0" font-weight="bold" text-anchor="middle" fill="#111" font-style="normal" stroke="#111" stroke-width="0.15" >HH</text>
<circle cx="24.40" cy="439.75" r="1.4" fill="#1f7bbf"/>
<rect x="42.90" y="437.15" width="2.3" height="2.30" rx="0.8" fill="#d7173a"/>
<rect x="42.90" y="432.15" width="2.3" height="5.80" rx="0.8" fill="#1f7bbf"/>
<rect x="52.73" y="437.65" width="2.3" height="2.30" rx="0.8" fill="#d7173a"/>
<rect x="52.73" y="433.15" width="2.3" height="5.50" rx="0.8" fill="#1f7bbf"/>
<rect x="62.55" y="437.05" width="2.3" height="2.30" rx="0.8" fill="#d7173a"/>
<rect x="62.55" y="432.15" width="2.3" height="5.80" rx="0.8" fill="#1f7bbf"/>
<rect x="72.38" y="436.15" width="2.3" height="2.30" rx="0.8" fill="#d7173a"/>
<rect x="72.38" y="432.35" width="2.3" height="5.60" rx="0.8" fill="#1f7bbf"/>
<rect x="82.20" y="435.65" width="2.3" height="2.30" rx="0.8" fill="#d7173a"/>
<rect x="82.20" y="430.15" width="2.3" height="6.80" rx="0.8" fill="#1f7bbf"/>
<rect x="92.02" y="424.45" width="2.3" height="2.30" rx="0.8" fill="#d7173a"/>
<rect x="92.02" y="435.55" width="2.3" height="2.30" rx="0.8" fill="#d7173a"/>
<rect x="92.02" y="428.75" width="2.3" height="2.30" rx="0.8" fill="#1f7bbf"/>
<rect x="92.02" y="431.55" width="2.3" height="4.50" rx="0.8" fill="#1f7bbf"/>
<rect x="101.85" y="435.55" width="2.3" height="2.30" rx="0.8" fill="#d7173a"/>
<rect x="101.85" y="428.75" width="2.3" height="2.30" rx="0.8" fill="#1f7bbf"/>
<rect x="101.85" y="432.25" width="2.3" height="4.30" rx="0.8" fill="#1f7bbf"/>
<rect x="111.67" y="437.65" width="2.3" height="2.30" rx="0.8" fill="#d7173a"/>
<rect x="111.67" y="433.55" width="2.3" height="4.90" rx="0.8" fill="#1f7bbf"/>
<rect x="121.50" y="444.15" width="2.3" height="2.30" rx="0.8" fill="#d7173a"/>
<rect x="121.50" y="446.85" width="2.3" height="2.30" rx="0.8" fill="#d7173a"/>
<rect x="121.50" y="450.35" width="2.3" height="2.30" rx="0.8" fill="#d7173a"/>
<rect x="121.50" y="437.15" width="2.3" height="5.30" rx="0.8" fill="#1f7bbf"/>
<line x1="253.10" y1="434.00" x2="253.10" y2="441.50" stroke="#1f7bbf" stroke-width="0.7" />
<line x1="154.50" y1="428.50" x2="154.50" y2="494.40" stroke="#808080" stroke-width="1.4" />
<line x1="154.50" y1="494.40" x2="253.25" y2="494.40" stroke="#444" stroke-width="1.1" />
<line x1="152.00" y1="483.50" x2="154.50" y2="483.50" stroke="#1a1a1a" stroke-width="0.9" />
<text x="151.20" y="485.30" font-size="4.9" font-weight="bold" text-anchor="end" fill="#222" font-style="normal" >0</text>
<line x1="152.00" y1="461.62" x2="154.50" y2="461.62" stroke="#1a1a1a" stroke-width="0.9" />
<text x="151.20" y="463.43" font-size="4.9" font-weight="bold" text-anchor="end" fill="#222" font-style="normal" >50</text>
<line x1="152.00" y1="439.75" x2="154.50" y2="439.75" stroke="#1a1a1a" stroke-width="0.9" />
<text x="151.20" y="441.55" font-size="4.9" font-weight="bold" text-anchor="end" fill="#222" font-style="normal" >100</text>
<line x1="154.50" y1="494.40" x2="154.50" y2="497.00" stroke="#1a1a1a" stroke-width="0.9" />
<text x="154.50" y="502.00" font-size="5.0" font-weight="bold" text-anchor="middle" fill="#222" font-style="normal" >-4</text>
<line x1="174.15" y1="494.40" x2="174.15" y2="497.00" stroke="#1a1a1a" stroke-width="0.9" />
<text x="174.15" y="502.00" font-size="5.0" font-weight="bold" text-anchor="middle" fill="#222" font-style="normal" >-3</text>
<line x1="193.80" y1="494.40" x2="193.80" y2="497.00" stroke="#1a1a1a" stroke-width="0.9" />
<text x="193.80" y="502.00" font-size="5.0" font-weight="bold" text-anchor="middle" fill="#222" font-style="normal" >-2</text>
<line x1="213.45" y1="494.40" x2="213.45" y2="497.00" stroke="#1a1a1a" stroke-width="0.9" />
<text x="213.45" y="502.00" font-size="5.0" font-weight="bold" text-anchor="middle" fill="#222" font-style="normal" >-1</text>
<line x1="233.10" y1="494.40" x2="233.10" y2="497.00" stroke="#1a1a1a" stroke-width="0.9" />
<text x="233.10" y="502.00" font-size="5.0" font-weight="bold" text-anchor="middle" fill="#222" font-style="normal" >0</text>
<line x1="252.75" y1="494.40" x2="252.75" y2="497.00" stroke="#1a1a1a" stroke-width="0.9" />
<text x="252.75" y="502.00" font-size="5.0" font-weight="bold" text-anchor="middle" fill="#222" font-style="normal" >1</text>
<text x="203.00" y="509.60" font-size="5.6" font-weight="bold" text-anchor="middle" fill="#222" font-style="normal" >log<tspan font-size="3.8" dy="1.5">10</tspan><tspan dy="-1.5"> (&#956;M)</tspan></text>
<text font-size="6.0" font-weight="normal" text-anchor="middle" fill="#222" stroke="#222" stroke-width="0.07" transform="translate(141.50,460.0) rotate(-90)">Viability (%)</text>
<line x1="156.00" y1="483.50" x2="252.75" y2="483.50" stroke="#999" stroke-width="0.6" stroke-dasharray="1,1.2"/>
<text x="203.40" y="421.30" font-size="7.0" font-weight="bold" text-anchor="middle" fill="#111" font-style="normal" stroke="#111" stroke-width="0.15" >Jurkat</text>
<circle cx="154.50" cy="439.75" r="1.4" fill="#1f7bbf"/>
<rect x="173.00" y="436.85" width="2.3" height="2.30" rx="0.8" fill="#d7173a"/>
<rect x="173.00" y="433.15" width="2.3" height="4.80" rx="0.8" fill="#1f7bbf"/>
<rect x="182.82" y="436.35" width="2.3" height="2.30" rx="0.8" fill="#d7173a"/>
<rect x="182.82" y="433.15" width="2.3" height="4.80" rx="0.8" fill="#1f7bbf"/>
<rect x="192.65" y="436.85" width="2.3" height="2.30" rx="0.8" fill="#d7173a"/>
<rect x="192.65" y="433.85" width="2.3" height="3.80" rx="0.8" fill="#1f7bbf"/>
<rect x="202.47" y="436.35" width="2.3" height="2.30" rx="0.8" fill="#d7173a"/>
<rect x="202.47" y="432.85" width="2.3" height="4.30" rx="0.8" fill="#1f7bbf"/>
<rect x="212.30" y="436.35" width="2.3" height="3.60" rx="0.8" fill="#d7173a"/>
<rect x="212.30" y="433.15" width="2.3" height="4.30" rx="0.8" fill="#1f7bbf"/>
<rect x="222.12" y="437.15" width="2.3" height="3.00" rx="0.8" fill="#d7173a"/>
<rect x="222.12" y="434.15" width="2.3" height="4.30" rx="0.8" fill="#1f7bbf"/>
<rect x="231.95" y="437.85" width="2.3" height="2.30" rx="0.8" fill="#d7173a"/>
<rect x="231.95" y="434.85" width="2.3" height="4.30" rx="0.8" fill="#1f7bbf"/>
<rect x="241.78" y="434.85" width="2.3" height="4.30" rx="0.8" fill="#1f7bbf"/>
<rect x="251.60" y="452.35" width="2.3" height="6.30" rx="0.8" fill="#d7173a"/>
<rect x="251.60" y="435.15" width="2.3" height="4.30" rx="0.8" fill="#1f7bbf"/>
<circle cx="219.40" cy="430.30" r="1.1" fill="#1f7bbf"/>
<circle cx="222.60" cy="430.30" r="1.1" fill="#1f7bbf"/>
<circle cx="225.75" cy="430.30" r="1.1" fill="#1f7bbf"/>
<circle cx="251.25" cy="425.60" r="1.1" fill="#d7173a"/>
<circle cx="254.50" cy="425.60" r="1.1" fill="#d7173a"/>
<rect x="273" y="431.5" width="2.6" height="2.6" rx="1" fill="#d7173a"/>
<rect x="273" y="438.5" width="2.6" height="2.6" rx="1" fill="#1f7bbf"/>
<text x="281.20" y="434.80" font-size="5.6" font-weight="normal" text-anchor="start" fill="#333" font-style="normal" stroke="#333" stroke-width="0.07" >GSK126</text>
<text x="281.20" y="441.80" font-size="5.6" font-weight="normal" text-anchor="start" fill="#333" font-style="normal" stroke="#333" stroke-width="0.07" >EPZ6438</text>
<rect x="342.40" y="419.30" width="16.78" height="16.88" fill="#a3c8e1"/>
<rect x="358.88" y="419.30" width="16.78" height="16.88" fill="#cc0b2c"/>
<rect x="375.36" y="419.30" width="16.78" height="16.88" fill="#a9cfe5"/>
<rect x="391.84" y="419.30" width="16.78" height="16.88" fill="#dceaf4"/>
<rect x="342.40" y="435.88" width="16.78" height="16.88" fill="#fbe9ed"/>
<rect x="358.88" y="435.88" width="16.78" height="16.88" fill="#d8405a"/>
<rect x="375.36" y="435.88" width="16.78" height="16.88" fill="#e4808f"/>
<rect x="391.84" y="435.88" width="16.78" height="16.88" fill="#dde9f3"/>
<rect x="342.40" y="452.46" width="16.78" height="16.88" fill="#d9e8f2"/>
<rect x="358.88" y="452.46" width="16.78" height="16.88" fill="#e27186"/>
<rect x="375.36" y="452.46" width="16.78" height="16.88" fill="#e4eef6"/>
<rect x="391.84" y="452.46" width="16.78" height="16.88" fill="#dfebf4"/>
<rect x="342.40" y="469.04" width="16.78" height="16.88" fill="#dde9f3"/>
<rect x="358.88" y="469.04" width="16.78" height="16.88" fill="#e47a8a"/>
<rect x="375.36" y="469.04" width="16.78" height="16.88" fill="#dae8f3"/>
<rect x="391.84" y="469.04" width="16.78" height="16.88" fill="#b9d6ea"/>
<rect x="342.40" y="485.62" width="16.78" height="16.88" fill="#80b1d6"/>
<rect x="358.88" y="485.62" width="16.78" height="16.88" fill="#d95369"/>
<rect x="375.36" y="485.62" width="16.78" height="16.88" fill="#f2bcc6"/>
<rect x="391.84" y="485.62" width="16.78" height="16.88" fill="#eeaeba"/>
<rect x="342.40" y="502.20" width="16.78" height="16.88" fill="#f4c0ca"/>
<rect x="358.88" y="502.20" width="16.78" height="16.88" fill="#cc0a28"/>
<rect x="375.36" y="502.20" width="16.78" height="16.88" fill="#f4c8d0"/>
<rect x="391.84" y="502.20" width="16.78" height="16.88" fill="#efb6c0"/>
<rect x="342.40" y="419.30" width="65.92" height="99.48" fill="none" stroke="#333" stroke-width="0.9"/>
<line x1="339.90" y1="427.59" x2="342.40" y2="427.59" stroke="#1a1a1a" stroke-width="0.9" />
<text font-size="5.1" font-weight="bold" text-anchor="end" fill="#1a1a1a" stroke="#1a1a1a" stroke-width="0.06" transform="translate(339.40,429.59) scale(1,1.12)">HH</text>
<line x1="339.90" y1="444.17" x2="342.40" y2="444.17" stroke="#1a1a1a" stroke-width="0.9" />
<text font-size="5.1" font-weight="bold" text-anchor="end" fill="#1a1a1a" stroke="#1a1a1a" stroke-width="0.06" transform="translate(339.40,446.17) scale(1,1.12)">DERL2</text>
<line x1="339.90" y1="460.75" x2="342.40" y2="460.75" stroke="#1a1a1a" stroke-width="0.9" />
<text font-size="5.1" font-weight="bold" text-anchor="end" fill="#1a1a1a" stroke="#1a1a1a" stroke-width="0.06" transform="translate(339.40,462.75) scale(1,1.12)">Jurkat</text>
<line x1="339.90" y1="477.33" x2="342.40" y2="477.33" stroke="#1a1a1a" stroke-width="0.9" />
<text font-size="5.1" font-weight="bold" text-anchor="end" fill="#1a1a1a" stroke="#1a1a1a" stroke-width="0.06" transform="translate(339.40,479.33) scale(1,1.12)">Loucy</text>
<line x1="339.90" y1="493.91" x2="342.40" y2="493.91" stroke="#1a1a1a" stroke-width="0.9" />
<text font-size="5.1" font-weight="bold" text-anchor="end" fill="#1a1a1a" stroke="#1a1a1a" stroke-width="0.06" transform="translate(339.40,495.91) scale(1,1.12)">Daudi</text>
<line x1="339.90" y1="510.49" x2="342.40" y2="510.49" stroke="#1a1a1a" stroke-width="0.9" />
<text font-size="5.1" font-weight="bold" text-anchor="end" fill="#1a1a1a" stroke="#1a1a1a" stroke-width="0.06" transform="translate(339.40,512.49) scale(1,1.12)">OciLy1</text>
<line x1="350.64" y1="518.78" x2="350.64" y2="521.28" stroke="#1a1a1a" stroke-width="0.9" />
<text font-size="4.9" font-weight="bold" text-anchor="end" fill="#1a1a1a" stroke="#1a1a1a" stroke-width="0.06" transform="translate(352.24,525.98) rotate(-45) scale(1,1.15)">Doxorubicin</text>
<line x1="367.12" y1="518.78" x2="367.12" y2="521.28" stroke="#1a1a1a" stroke-width="0.9" />
<text font-size="4.9" font-weight="bold" text-anchor="end" fill="#1a1a1a" stroke="#1a1a1a" stroke-width="0.06" transform="translate(368.72,525.98) rotate(-45) scale(1,1.15)">Oxaliplatin</text>
<line x1="383.60" y1="518.78" x2="383.60" y2="521.28" stroke="#1a1a1a" stroke-width="0.9" />
<text font-size="4.9" font-weight="bold" text-anchor="end" fill="#1a1a1a" stroke="#1a1a1a" stroke-width="0.06" transform="translate(385.20,525.98) rotate(-45) scale(1,1.15)">Cytarabin</text>
<line x1="400.08" y1="518.78" x2="400.08" y2="521.28" stroke="#1a1a1a" stroke-width="0.9" />
<text font-size="4.9" font-weight="bold" text-anchor="end" fill="#1a1a1a" stroke="#1a1a1a" stroke-width="0.06" transform="translate(401.68,525.98) rotate(-45) scale(1,1.15)">5-Azacytidin</text>
<defs><linearGradient id="cb" x1="0" y1="0" x2="0" y2="1"><stop offset="0" stop-color="#1a5f9a"/><stop offset="0.2" stop-color="#4f8fc3"/><stop offset="0.4" stop-color="#bcd8ea"/><stop offset="0.5" stop-color="#ffffff"/><stop offset="0.6" stop-color="#f5c8d0"/><stop offset="0.8" stop-color="#e16279"/><stop offset="1" stop-color="#c80a2a"/></linearGradient></defs>
<rect x="417" y="419.3" width="8" height="99.5" fill="url(#cb)" stroke="#222" stroke-width="0.9"/>
<line x1="425.00" y1="419.30" x2="427.00" y2="419.30" stroke="#1a1a1a" stroke-width="0.8" />
<text x="428.20" y="421.40" font-size="6.0" font-weight="bold" text-anchor="start" fill="#222" font-style="normal" >50</text>
<line x1="425.00" y1="469.05" x2="427.00" y2="469.05" stroke="#1a1a1a" stroke-width="0.8" />
<text x="428.20" y="471.15" font-size="6.0" font-weight="bold" text-anchor="start" fill="#222" font-style="normal" >0</text>
<line x1="425.00" y1="518.80" x2="427.00" y2="518.80" stroke="#1a1a1a" stroke-width="0.8" />
<text x="428.20" y="520.90" font-size="6.0" font-weight="bold" text-anchor="start" fill="#222" font-style="normal" >-50</text>
<text font-size="5.8" font-weight="normal" text-anchor="middle" fill="#111" stroke="#111" stroke-width="0.08" transform="translate(443.3,468.8) rotate(-90)">Maximal Difference in Cell Viability (%)</text></svg>
</body></html>
